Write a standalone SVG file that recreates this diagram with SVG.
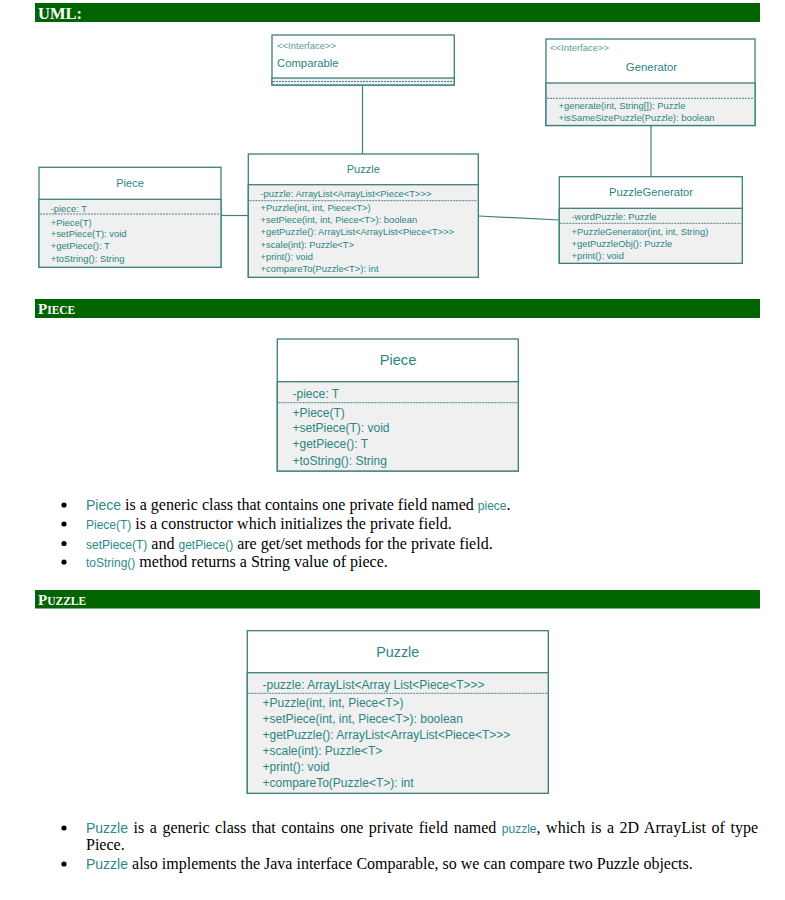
<svg xmlns="http://www.w3.org/2000/svg" width="785" height="900" viewBox="0 0 785 900">
<style>
.bar{fill:#006400}
.bt{font-family:"Liberation Serif","Times New Roman",serif;font-weight:bold;fill:#ffffff}
.box{fill:#ffffff;stroke:#3a7f7d;stroke-width:1.3}
.cmp{fill:#f0f0f0;stroke:#3a7f7d;stroke-width:1.3}
.dash{stroke:#4a8583;stroke-width:1;stroke-dasharray:2,1;fill:none}
.t{font-family:"Liberation Sans",Arial,sans-serif;fill:#2a8582}
.st{font-family:"Liberation Sans",Arial,sans-serif;fill:#5c9a98;font-size:9.5px}
.s9{font-size:9.4px}
.s12{font-size:12px}
.conn{stroke:#3a7f7d;stroke-width:1.2;fill:none}
.p{font-family:"Liberation Serif","Times New Roman",serif;fill:#000000;font-size:16px}
.c{font-family:"Liberation Sans",Arial,sans-serif;fill:#2a8a88}
</style>

<!-- Header bars -->
<rect class="bar" x="35" y="3" width="725" height="19"/>
<text class="bt" x="38" y="18.5" font-size="16.5">UML:</text>
<rect class="bar" x="35" y="299" width="725" height="19"/>
<text class="bt" x="38" y="314" font-size="15">P<tspan font-size="11.5">IECE</tspan></text>
<rect class="bar" x="35" y="590" width="725" height="18.5"/>
<text class="bt" x="38" y="604.5" font-size="15">P<tspan font-size="11.5">UZZLE</tspan></text>

<!-- Connectors -->
<g id="connectors">
<line class="conn" x1="362.5" y1="85" x2="362.5" y2="154"/>
<line class="conn" x1="651" y1="125.5" x2="651" y2="176.5"/>
<line class="conn" x1="221" y1="215.5" x2="248.3" y2="215.5"/>
<line class="conn" x1="478.3" y1="216" x2="559.3" y2="220"/>
</g>

<!-- Comparable -->
<g id="comparable">
<rect class="box" x="272" y="35" width="182.3" height="50"/>
<rect class="cmp" x="272" y="78" width="182.3" height="7"/>
<line class="dash" x1="273" y1="81.5" x2="453.3" y2="81.5"/>
<text class="st" x="277" y="48.5">&lt;&lt;Interface&gt;&gt;</text>
<text class="t" x="277" y="67" font-size="11.3">Comparable</text>
</g>

<!-- Generator -->
<g id="generator">
<rect class="box" x="546" y="39" width="209" height="86.5"/>
<rect class="cmp" x="546" y="83" width="209" height="42.5"/>
<line class="dash" x1="547" y1="98.3" x2="754" y2="98.3"/>
<text class="st" x="550" y="51">&lt;&lt;Interface&gt;&gt;</text>
<text class="t" x="651.5" y="71.3" font-size="11.4" text-anchor="middle">Generator</text>
<text class="t s9" x="558.5" y="109">+generate(int, String[]): Puzzle</text>
<text class="t s9" x="558.5" y="120.5">+isSameSizePuzzle(Puzzle): boolean</text>
</g>

<!-- Piece (UML) -->
<g id="piece-small">
<rect class="box" x="39" y="167.3" width="182" height="100"/>
<rect class="cmp" x="39" y="199.3" width="182" height="68"/>
<line class="dash" x1="40" y1="214" x2="220" y2="214"/>
<text class="t" x="130" y="187.3" font-size="11" text-anchor="middle">Piece</text>
<text class="t s9" x="50.7" y="211.5">-piece: T</text>
<text class="t s9" x="50.7" y="225.6">+Piece(T)</text>
<text class="t s9" x="50.7" y="237.4">+setPiece(T): void</text>
<text class="t s9" x="50.7" y="249.4">+getPiece(): T</text>
<text class="t s9" x="50.7" y="261.6">+toString(): String</text>
</g>

<!-- Puzzle (UML) -->
<g id="puzzle-small">
<rect class="box" x="248.3" y="154" width="230" height="123.3"/>
<rect class="cmp" x="248.3" y="184.7" width="230" height="92.6"/>
<line class="dash" x1="249.3" y1="200.7" x2="477.3" y2="200.7"/>
<text class="t" x="363.3" y="173" font-size="11" text-anchor="middle">Puzzle</text>
<text class="t s9" x="260.5" y="197">-puzzle: ArrayList&lt;ArrayList&lt;Piece&lt;T&gt;&gt;&gt;</text>
<text class="t s9" x="260.5" y="211.4">+Puzzle(int, int, Piece&lt;T&gt;)</text>
<text class="t s9" x="260.5" y="223.4">+setPiece(int, int, Piece&lt;T&gt;): boolean</text>
<text class="t s9" x="260.5" y="235.4">+getPuzzle(): ArrayList&lt;ArrayList&lt;Piece&lt;T&gt;&gt;&gt;</text>
<text class="t s9" x="260.5" y="247.6">+scale(int): Puzzle&lt;T&gt;</text>
<text class="t s9" x="260.5" y="260">+print(): void</text>
<text class="t s9" x="260.5" y="271.6">+compareTo(Puzzle&lt;T&gt;): int</text>
</g>

<!-- PuzzleGenerator -->
<g id="puzzlegenerator">
<rect class="box" x="559.3" y="176.7" width="183" height="86.6"/>
<rect class="cmp" x="559.3" y="208.3" width="183" height="55"/>
<line class="dash" x1="560.3" y1="223.3" x2="741.3" y2="223.3"/>
<text class="t" x="651" y="196" font-size="11.2" text-anchor="middle">PuzzleGenerator</text>
<text class="t s9" x="571.5" y="219.5">-wordPuzzle: Puzzle</text>
<text class="t s9" x="571.5" y="235">+PuzzleGenerator(int, int, String)</text>
<text class="t s9" x="571.5" y="246.6">+getPuzzleObj(): Puzzle</text>
<text class="t s9" x="571.5" y="258.6">+print(): void</text>
</g>

<!-- Piece (large) -->
<g id="piece-large">
<rect class="box" x="277.3" y="339" width="241" height="132"/>
<rect class="cmp" x="277.3" y="381.7" width="241" height="89.3"/>
<line class="dash" x1="278.3" y1="402.7" x2="517.3" y2="402.7"/>
<text class="t" x="398" y="365" font-size="14.7" text-anchor="middle">Piece</text>
<text class="t s12" x="292.5" y="397.5">-piece: T</text>
<text class="t s12" x="292.5" y="416.6">+Piece(T)</text>
<text class="t s12" x="292.5" y="431.6">+setPiece(T): void</text>
<text class="t s12" x="292.5" y="448">+getPiece(): T</text>
<text class="t s12" x="292.5" y="465">+toString(): String</text>
</g>

<!-- Piece bullets -->
<g id="piece-text">
<circle cx="64" cy="505" r="2.6"/>
<circle cx="64" cy="524" r="2.6"/>
<circle cx="64" cy="543.5" r="2.6"/>
<circle cx="64" cy="562" r="2.6"/>
<text class="p" x="86" y="510"><tspan class="c" font-size="14">Piece</tspan> is a generic class that contains one private field named <tspan class="c" font-size="12">piece</tspan>.</text>
<text class="p" x="86" y="529"><tspan class="c" font-size="12">Piece(T)</tspan> is a constructor which initializes the private field.</text>
<text class="p" x="86" y="548.5"><tspan class="c" font-size="12">setPiece(T)</tspan> and <tspan class="c" font-size="12">getPiece()</tspan> are get/set methods for the private field.</text>
<text class="p" x="86" y="567"><tspan class="c" font-size="12">toString()</tspan> method returns a String value of piece.</text>
</g>

<!-- Puzzle (large) -->
<g id="puzzle-large">
<rect class="box" x="247.3" y="630.7" width="301" height="162.6"/>
<rect class="cmp" x="247.3" y="672.7" width="301" height="120.6"/>
<line class="dash" x1="248.3" y1="693.3" x2="547.3" y2="693.3"/>
<text class="t" x="397.8" y="657" font-size="14.3" text-anchor="middle">Puzzle</text>
<text class="t s12" x="262.5" y="688.5">-puzzle: ArrayList&lt;Array List&lt;Piece&lt;T&gt;&gt;&gt;</text>
<text class="t s12" x="262.5" y="706.5">+Puzzle(int, int, Piece&lt;T&gt;)</text>
<text class="t s12" x="262.5" y="722.5">+setPiece(int, int, Piece&lt;T&gt;): boolean</text>
<text class="t s12" x="262.5" y="738.5">+getPuzzle(): ArrayList&lt;ArrayList&lt;Piece&lt;T&gt;&gt;&gt;</text>
<text class="t s12" x="262.5" y="754.5">+scale(int): Puzzle&lt;T&gt;</text>
<text class="t s12" x="262.5" y="770.5">+print(): void</text>
<text class="t s12" x="262.5" y="786.5">+compareTo(Puzzle&lt;T&gt;): int</text>
</g>

<!-- Puzzle bullets -->
<g id="puzzle-text">
<circle cx="64" cy="828" r="2.6"/>
<circle cx="64" cy="864" r="2.6"/>
<text class="p" x="86" y="833" word-spacing="1.55"><tspan class="c" font-size="14">Puzzle</tspan> is a generic class that contains one private field named <tspan class="c" font-size="12">puzzle</tspan>, which is a 2D ArrayList of type</text>
<text class="p" x="86" y="850">Piece.</text>
<text class="p" x="86" y="869"><tspan class="c" font-size="14">Puzzle</tspan> also implements the Java interface Comparable, so we can compare two Puzzle objects.</text>
</g>
</svg>
